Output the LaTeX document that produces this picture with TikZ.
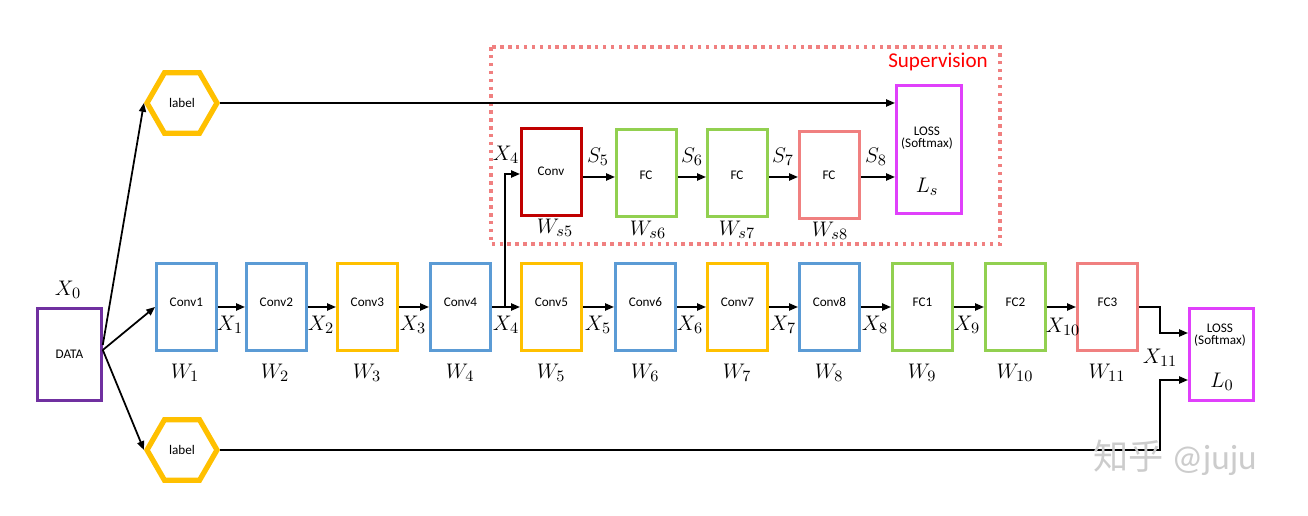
\documentclass[tikz,border=0pt]{standalone}
\usepackage{fontspec}
\setmainfont{Carlito}
\newfontfamily\cjk{Noto Sans CJK SC}
\usetikzlibrary{shapes.geometric,arrows.meta}
\definecolor{cblue}{RGB}{91,155,213}
\definecolor{cyel}{RGB}{255,192,0}
\definecolor{cgreen}{RGB}{146,208,80}
\definecolor{cpink}{RGB}{240,128,128}
\definecolor{cred}{RGB}{192,0,0}
\definecolor{cmag}{RGB}{224,64,251}
\definecolor{cpurp}{RGB}{112,48,160}
\begin{document}
\begin{tikzpicture}[x=0.02cm,y=-0.02cm,
  sm/.style={font=\fontsize{7.5}{9}\selectfont},
  box/.style={draw=#1,line width=1.6pt,minimum width=1.2cm,minimum height=1.74cm,inner sep=0pt,sm,anchor=north west},
  hex/.style={regular polygon,regular polygon sides=6,draw=cyel,line width=3pt,minimum size=1.4cm,inner sep=0pt,sm},
  arr/.style={-{Triangle[length=5pt,width=4pt]},line width=1pt},
  ml/.style={font=\fontsize{13}{15}\selectfont}]
\useasboundingbox (0,0) rectangle (1308,516);
% main row
\foreach \n/\x/\c in {c1/155/cblue,c2/245/cblue,c3/336/cyel,c4/429/cblue,c5/520/cyel,c6/614/cblue,c7/706/cyel,c8/798/cblue,f1/891/cgreen,f2/984/cgreen,f3/1076/cpink}
  \node[box=\c] (\n) at (\x,262) {};
\foreach \n/\t in {c1/Conv1,c2/Conv2,c3/Conv3,c4/Conv4,c5/Conv5,c6/Conv6,c7/Conv7,c8/Conv8,f1/FC1,f2/FC2,f3/FC3}
  \node[sm] (t\n) at ([yshift=-0.8cm]\n.north) {\t};
\node[box=cpurp,minimum height=1.84cm,minimum width=1.28cm] (data) at (36,307) {DATA};
\node[box=cmag,minimum height=1.84cm,minimum width=1.28cm] (loss) at (1188,307) {};
\node[sm,align=center] (losst) at (1220,335) {LOSS\\[-2pt](Softmax)};
\node[ml] (l0) at (1222,382) {$L_0$};
\node[hex] (lt) at (182,103) {label};
\node[hex] (lb) at (182,450) {label};
% top row
\node[box=cred] (sc) at (520,127) {};
\node[box=cgreen] (s6) at (615,128) {};
\node[box=cgreen] (s7) at (706,128) {};
\node[box=cpink] (s8) at (798,130) {};
\node[sm] (tsc) at (551,171) {Conv};
\node[sm] (ts6) at (646,175) {FC};
\node[sm] (ts7) at (737,175) {FC};
\node[sm] (ts8) at (829,175) {FC};
\node[box=cmag,minimum width=1.3cm,minimum height=2.56cm] (ls) at (895,84) {};
\node[sm,align=center] (lst) at (927,138) {LOSS\\[-2pt](Softmax)};
\node[ml] (lsl) at (927,187) {$L_s$};
\draw[cpink,line width=2pt,dash pattern=on 2pt off 2.5pt] (491,47) rectangle (1000,244);
\node[text=red,font=\fontsize{12}{14}\selectfont] (sup) at (938,62) {Supervision};
% main arrows
\foreach \a/\b in {c1/c2,c2/c3,c3/c4,c4/c5,c5/c6,c6/c7,c7/c8,c8/f1,f1/f2,f2/f3}
  \draw[arr] (\a.east|-0,307) -- (\b.west|-0,307);
\foreach \a/\b in {sc/s6,s6/s7,s7/s8,s8/ls}
  \draw[arr] (\a.east|-0,177) -- (\b.west|-0,177);
\coordinate (br) at (505,307);
\draw[arr] (br) -- (505,174) -- (sc.west|-0,174);
\draw[arr] (data.east|-0,345) -- (lt.west);
\draw[arr] (data.east|-0,350) -- (c1.west|-0,307);
\draw[arr] (data.east|-0,350) -- (lb.west);
\draw[arr] (lt.east) -- (ls.west|-lt);
\draw[arr] (lb.east) -- (1160,450) -- (1160,380) -- (loss.west|-0,380);
\draw[arr] (f3.east|-0,307) -- (1160,307) -- (1160,333) -- (loss.west|-0,333);
% labels
\node[ml] at (68,290) {$X_0$};
\foreach \x/\i in {230/1,321/2,413/3,506/4,598/5,690/6,783/7,875/8,967/9}
  \node[ml] at (\x,325) {$X_{\i}$};
\node[ml] at (1063,327) {$X_{10}$};
\node[ml] at (1160,358) {$X_{11}$};
\foreach \x/\i in {185/1,275/2,367/3,460/4,551/5,645/6,737/7,829/8,922/9}
  \node[ml] at (\x,373) {$W_{\i}$};
\node[ml] at (1015,373) {$W_{10}$};
\node[ml] at (1107,373) {$W_{11}$};
\node[ml] at (506,155) {$X_4$};
\node[ml] at (598,157) {$S_5$};
\node[ml] at (692,157) {$S_6$};
\node[ml] at (783,157) {$S_7$};
\node[ml] at (876,157) {$S_8$};
\node[ml] at (555,228) {$W_{s5}$};
\node[ml] at (648,230) {$W_{s6}$};
\node[ml] at (737,230) {$W_{s7}$};
\node[ml] at (830,231) {$W_{s8}$};
\node[text=black!20,font=\fontsize{20}{24}\selectfont] (wm) at (1175,458) {{\cjk 知乎} @juju};
\end{tikzpicture}
\end{document}
